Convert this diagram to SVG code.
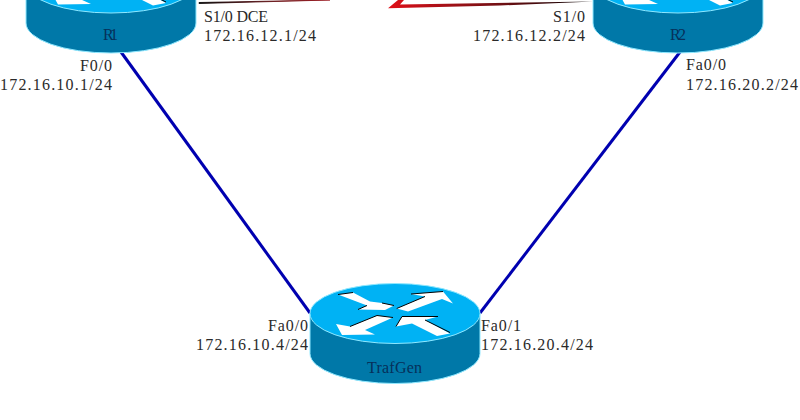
<svg xmlns="http://www.w3.org/2000/svg" width="800" height="420" viewBox="0 0 800 420">
<style>
text{font-family:"Liberation Serif",serif;font-size:16px;fill:#2a2a2a}
.n{fill:#06305a}
.l{stroke:#0000b0;stroke-width:3;fill:none}
</style>
<defs>
<linearGradient id="wr" gradientUnits="userSpaceOnUse" x1="388" y1="0" x2="593" y2="0">
<stop offset="0" stop-color="#e01018"/><stop offset="0.15" stop-color="#c01018"/><stop offset="0.55" stop-color="#701014"/><stop offset="1" stop-color="#000"/>
</linearGradient>
<linearGradient id="wl" gradientUnits="userSpaceOnUse" x1="199" y1="0" x2="340" y2="0">
<stop offset="0" stop-color="#000"/><stop offset="0.6" stop-color="#701014"/><stop offset="1" stop-color="#a01018"/>
</linearGradient>
<g id="router">
<path d="M-85 0V40A85 30 0 0 0 85 40V0Z" fill="#0078a8" stroke="#8fe8ff" stroke-width="1"/>
<ellipse cx="0" cy="0" rx="85" ry="30" fill="#00b2f4" stroke="#8fe8ff" stroke-width="1"/>
<g fill="#fff" stroke="none">
<path d="M-57 -19L-42 -21L-25 -12L-13 -10.500L-1 -8L-10 -3.500L-37 -4L-28 -8Z"/>
<path d="M1.700 -5L30 -17L16 -19.500L48 -22L58 -10L47 -14.500L13 -2Z"/>
<path d="M-59 10.500L-45 13L-18 2L-2 4L-30 16.500L-20 21L-53 21.500Z"/>
<path d="M1 13L7 3L43 3L30 6.500L55 20L42 22.500L17 10Z"/>
</g>
<g fill="none" stroke="#000" stroke-width="1">
<path d="M-57 -19L-42 -21M-37 -4L-28 -8M-13 -10.500L-1 -8"/>
<path d="M1.700 -5L30 -17M16 -19.500L48 -22"/>
<path d="M-45 13L-18 2L-2 4"/>
<path d="M1 13L7 3L43 3M30 6.500L55 19"/>
</g>
</g>
</defs>
<g id="connectors">
<path class="l" d="M121 52L310 313"/>
<path class="l" d="M680 52L480 313"/>
<path d="M199 2.500L330 0L199 3.500Z" fill="url(#wl)" stroke="url(#wl)" stroke-width="0.800"/>
<path d="M388 8.300L398 0H404L400 4.500L593 1.500L500 5.500Z" fill="url(#wr)"/>
</g>
<g id="R1"><use href="#router" x="111" y="-17"/><text class="n" x="103" y="40" textLength="15">R1</text></g>
<g id="R2"><use href="#router" x="678" y="-17"/><text class="n" x="670" y="40" textLength="16">R2</text></g>
<g id="TrafGen"><use href="#router" x="395" y="313.500"/><text class="n" x="367" y="373" textLength="55">TrafGen</text></g>
<g id="labels">
<text x="204" y="22" textLength="64">S1/0 DCE</text>
<text x="204" y="41" textLength="112">172.16.12.1/24</text>
<text x="553" y="22" textLength="32">S1/0</text>
<text x="473" y="41" textLength="112">172.16.12.2/24</text>
<text x="80" y="71" textLength="32">F0/0</text>
<text x="0" y="90" textLength="112">172.16.10.1/24</text>
<text x="686" y="70" textLength="40">Fa0/0</text>
<text x="686" y="90" textLength="112">172.16.20.2/24</text>
<text x="268" y="331" textLength="40">Fa0/0</text>
<text x="196" y="350" textLength="112">172.16.10.4/24</text>
<text x="481" y="331" textLength="40">Fa0/1</text>
<text x="481" y="350" textLength="112">172.16.20.4/24</text>
</g>
</svg>
